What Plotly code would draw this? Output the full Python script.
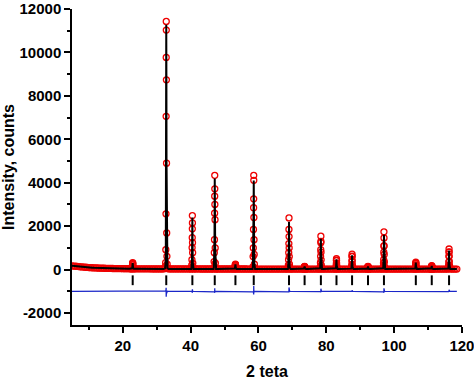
import plotly.graph_objects as go

# ---------------- data ----------------
# background observed points, 2theta from 5.0 to 118.5 in 0.5 steps
bg_start = 5.0
bg_step = 0.5
bg_y = [
    175, 165, 155, 146, 138, 130, 122, 115, 108, 102, 96,
    91, 86, 82, 78, 74, 71, 68, 65, 62, 60, 58, 56, 54, 52, 50, 49, 48, 47, 46, 45,
    44, 43, 42, 41, 40, 40, 39, 38, 38, 37, 37, 36, 36, 35, 35, 35, 34, 34, 34, 33,
    33, 33, 33, 32, 32, 32, 32, 32, 31, 31, 31, 31, 31, 31, 30, 30, 30, 30, 30, 30,
    30, 30, 30, 30, 30, 29, 29, 29, 29, 29, 29, 29, 29, 29, 29, 29, 29, 28, 28, 28,
    28, 28, 28, 28, 28, 28, 28, 28, 28, 28, 28, 28, 28, 27, 27, 27, 27, 27, 27, 27,
    27, 27, 27, 27, 27, 27, 27, 27, 27, 27, 27, 27, 27, 27, 27, 27, 27, 27, 27, 27,
    27, 27, 27, 27, 27, 27, 27, 27, 27, 27, 27, 27, 27, 27, 27, 27, 27, 27, 27, 27,
    27, 27, 27, 27, 27, 27, 27, 27, 27, 27, 27, 27, 27, 27, 27, 27, 27, 27, 27, 27,
    27, 27, 27, 27, 27, 27, 27, 27, 27, 27, 27, 27, 27, 27, 27, 27, 27, 27, 27, 27,
    27, 27, 27, 27, 27, 27, 27, 27, 27, 27, 27, 27, 27, 27, 27, 27, 27, 27, 27, 27,
    27, 27, 27, 27, 27, 27, 27, 27, 27, 27, 27, 27, 27, 27, 27, 27, 27,
]

# Bragg reflection positions (vertical tick marks) = peak centres
bragg_pos = [22.9, 32.8, 40.5, 47.1, 53.2, 58.6, 69.0, 73.6,
             78.4, 83.0, 87.6, 92.3, 97.0, 106.4, 111.1, 116.2]
bragg_level = -490

# sampling offsets across each peak (degrees)
peak_offsets = [-0.34, -0.26, -0.19, -0.13, -0.08, -0.04, -0.015, 0.0,
                0.015, 0.04, 0.08, 0.13, 0.19, 0.26, 0.34]

peak_obs = [
    [40, 45, 60, 90, 150, 230, 290, 320, 290, 220, 140, 80, 55, 42, 38],
    [60, 150, 320, 920, 2570, 7060, 9770, 11430, 11030, 8740, 4900, 1690, 610, 250, 80],
    [30, 80, 200, 460, 1010, 1470, 1880, 2490, 2150, 1240, 780, 300, 120, 60, 30],
    [30, 100, 370, 780, 1380, 2600, 3380, 4340, 3720, 3000, 2300, 1000, 300, 80, 30],
    [30, 35, 50, 80, 130, 190, 230, 250, 230, 190, 130, 80, 50, 35, 30],
    [30, 120, 600, 1000, 1850, 2850, 3260, 4340, 4110, 2400, 1380, 700, 250, 80, 30],
    [30, 80, 200, 460, 780, 1200, 1850, 2380, 1520, 1000, 600, 250, 100, 50, 30],
    [30, 32, 40, 55, 80, 110, 140, 150, 140, 110, 80, 55, 40, 32, 30],
    [30, 60, 130, 320, 610, 920, 1240, 1540, 1300, 800, 450, 200, 90, 50, 30],
    [30, 40, 60, 100, 170, 280, 420, 500, 430, 300, 180, 100, 60, 40, 30],
    [30, 45, 70, 130, 230, 400, 600, 710, 620, 420, 240, 130, 70, 45, 30],
    [30, 32, 40, 55, 80, 110, 140, 150, 140, 110, 80, 55, 40, 32, 30],
    [30, 60, 140, 300, 460, 800, 1080, 1740, 1460, 1100, 700, 350, 140, 60, 30],
    [30, 40, 55, 85, 130, 200, 290, 340, 300, 220, 140, 85, 55, 40, 30],
    [28, 32, 40, 60, 85, 120, 160, 180, 165, 125, 85, 60, 40, 32, 28],
    [30, 50, 100, 200, 350, 610, 800, 950, 820, 620, 380, 200, 100, 50, 30],
]

peak_calc = [
    [40, 45, 62, 92, 150, 225, 280, 300, 280, 215, 140, 80, 55, 42, 38],
    [60, 160, 330, 900, 2500, 6900, 10020, 11280, 10900, 8800, 5000, 1750, 600, 240, 70],
    [30, 85, 210, 480, 1000, 1500, 1950, 2400, 2100, 1250, 760, 310, 120, 60, 30],
    [30, 100, 380, 800, 1400, 2650, 3450, 4200, 3750, 3000, 2250, 980, 300, 80, 30],
    [30, 35, 50, 80, 128, 188, 225, 242, 225, 188, 128, 80, 50, 35, 30],
    [30, 120, 610, 1020, 1900, 2900, 3400, 4100, 4000, 2450, 1400, 700, 250, 80, 30],
    [30, 80, 210, 470, 800, 1250, 1900, 2200, 1550, 1000, 600, 250, 100, 50, 30],
    [30, 32, 40, 55, 80, 108, 135, 145, 135, 108, 80, 55, 40, 32, 30],
    [30, 60, 135, 330, 620, 950, 1280, 1420, 1280, 800, 450, 200, 90, 50, 30],
    [30, 40, 60, 100, 170, 280, 410, 470, 420, 300, 180, 100, 60, 40, 30],
    [30, 45, 70, 130, 230, 400, 590, 660, 600, 420, 240, 130, 70, 45, 30],
    [30, 32, 40, 55, 80, 108, 135, 145, 135, 108, 80, 55, 40, 32, 30],
    [30, 60, 140, 310, 480, 820, 1150, 1600, 1450, 1100, 700, 350, 140, 60, 30],
    [30, 40, 55, 85, 130, 200, 280, 320, 290, 220, 140, 85, 55, 40, 30],
    [28, 32, 40, 60, 85, 120, 155, 170, 160, 125, 85, 60, 40, 32, 28],
    [30, 50, 100, 200, 360, 620, 820, 880, 800, 620, 380, 200, 100, 50, 30],
]

diff_offset = -1000

x_tickvals = [20, 40, 60, 80, 100, 120]
x_ticklabels = ["20", "40", "60", "80", "100", "120"]
y_tickvals = [-2000, 0, 2000, 4000, 6000, 8000, 10000, 12000]
y_ticklabels = ["-2000", "0", "2000", "4000", "6000", "8000", "10000", "12000"]

# ---------------- assemble the pattern ----------------
points = []
half = max(abs(o) for o in peak_offsets) + 0.02
for i, yv in enumerate(bg_y):
    xv = bg_start + i * bg_step
    if any(abs(xv - c) <= half for c in bragg_pos):
        continue
    points.append((xv, yv, yv))
for c, ob, ca in zip(bragg_pos, peak_obs, peak_calc):
    for o, yo, yc in zip(peak_offsets, ob, ca):
        points.append((c + o, yo, yc))
points.sort(key=lambda p: p[0])
x = [p[0] for p in points]
y_obs = [p[1] for p in points]
y_calc = [p[2] for p in points]
y_diff = [o - c + diff_offset for o, c in zip(y_obs, y_calc)]

# ---------------- figure ----------------
fig = go.Figure()
fig.add_trace(go.Scatter(
    x=x, y=y_obs, mode="markers",
    marker=dict(symbol="circle-open", size=6, color="#ee0000",
                line=dict(width=1.3, color="#ee0000")),
    showlegend=False, hoverinfo="skip"))
fig.add_trace(go.Scatter(
    x=x, y=y_calc, mode="lines",
    line=dict(color="black", width=2),
    showlegend=False, hoverinfo="skip"))
fig.add_trace(go.Scatter(
    x=x, y=y_diff, mode="lines",
    line=dict(color="#1a26c8", width=1.3),
    showlegend=False, hoverinfo="skip"))
fig.add_trace(go.Scatter(
    x=bragg_pos, y=[bragg_level] * len(bragg_pos), mode="markers",
    marker=dict(symbol="line-ns", size=7, color="black",
                line=dict(width=2, color="black")),
    showlegend=False, hoverinfo="skip"))

font_main = dict(family="Liberation Sans, Arial, sans-serif", color="black")

fig.update_layout(
    width=474, height=380,
    margin=dict(l=72, r=12, t=9, b=55),
    paper_bgcolor="white", plot_bgcolor="white",
    font=font_main,
)
fig.update_xaxes(
    range=[5, 120.02], automargin=False, ticklabeloverflow="allow",
    tickmode="array", tickvals=x_tickvals,
    ticktext=["<b>%s</b>" % t for t in x_ticklabels],
    showgrid=False, zeroline=False,
    showline=True, linecolor="black", linewidth=1.5,
    ticks="outside", ticklen=6, tickwidth=1.5, tickcolor="black",
    minor=dict(ticks="outside", ticklen=3, tickwidth=1.5, tickcolor="black",
               tickmode="linear", tick0=0, dtick=10),
    tickfont=dict(size=15, **font_main),
    title=dict(text="<b>2 teta</b>", font=dict(size=16, **font_main), standoff=13),
)
fig.update_yaxes(
    range=[-2550, 12000.02], automargin=False, ticklabeloverflow="allow",
    tickmode="array", tickvals=y_tickvals,
    ticktext=["<b>%s</b>" % t for t in y_ticklabels],
    showgrid=False, zeroline=False,
    showline=True, linecolor="black", linewidth=1.5,
    ticks="outside", ticklen=6, tickwidth=1.5, tickcolor="black",
    minor=dict(ticks="outside", ticklen=3, tickwidth=1.5, tickcolor="black",
               tickmode="linear", tick0=0, dtick=1000),
    tickfont=dict(size=15, **font_main),
    title=dict(text="<b>Intensity, counts</b>", font=dict(size=16, **font_main), standoff=3),
)

fig.write_html(
    "out.html",
    config={"displayModeBar": False},
    post_script="document.body.style.margin='0';document.body.style.padding='0';",
)
